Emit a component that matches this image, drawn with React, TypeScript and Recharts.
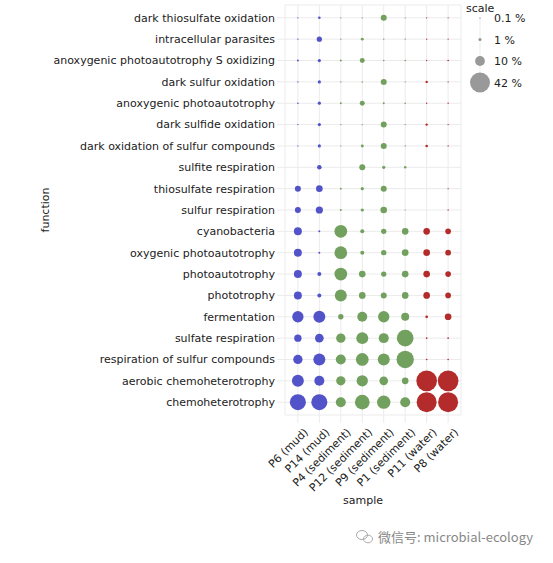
import React from "react"
import {
  CartesianGrid,
  Scatter,
  ScatterChart,
  XAxis,
  YAxis,
  ZAxis
} from "recharts"

// function names, top row first
const functions = [
  "dark thiosulfate oxidation",
  "intracellular parasites",
  "anoxygenic photoautotrophy S oxidizing",
  "dark sulfur oxidation",
  "anoxygenic photoautotrophy",
  "dark sulfide oxidation",
  "dark oxidation of sulfur compounds",
  "sulfite respiration",
  "thiosulfate respiration",
  "sulfur respiration",
  "cyanobacteria",
  "oxygenic photoautotrophy",
  "photoautotrophy",
  "phototrophy",
  "fermentation",
  "sulfate respiration",
  "respiration of sulfur compounds",
  "aerobic chemoheterotrophy",
  "chemoheterotrophy"
]

const samples = [
  "P6 (mud)",
  "P14 (mud)",
  "P4 (sediment)",
  "P12 (sediment)",
  "P9 (sediment)",
  "P1 (sediment)",
  "P11 (water)",
  "P8 (water)"
]

const sampleType = ["mud", "mud", "sediment", "sediment", "sediment", "sediment", "water", "water"]

// relative abundance (%) per sample, same order as functions
const p6 = [0.1, 0.1, 0.3, 0.1, 0.2, 0.1, 0.05, 0, 3.7, 3.7, 6.6, 6.6, 6.6, 6.6, 13.4, 5.6, 9, 15, 27]
const p14 = [0.6, 2.8, 1.0, 1.0, 1.0, 1.0, 1.0, 2.1, 4.5, 5.4, 0.33, 0.33, 1.6, 1.6, 15, 7.8, 15, 10.4, 27]
const p4 = [0.1, 0.1, 0.3, 0.1, 0.3, 0.1, 0.05, 0, 0.3, 0.3, 16.9, 16.9, 17, 15, 2.9, 9, 10.4, 9, 10.4]
const p12 = [0.1, 0.8, 2.5, 0.15, 2.5, 0.1, 0.8, 3.7, 1.0, 1.0, 1.6, 1.6, 4.6, 4.6, 10.4, 15, 17, 13.4, 22.6]
const p9 = [3.7, 0.1, 0.2, 3.7, 0.3, 3.7, 3.7, 1.0, 3.7, 4.5, 2.9, 2.9, 2.9, 3.7, 13.4, 10.4, 15, 7.8, 18.7]
const p1 = [0.05, 0.1, 0.2, 0.03, 0.2, 0.1, 0.1, 0.5, 0, 0.05, 4.6, 4.6, 4.6, 4.6, 6.6, 29, 31.5, 4.6, 10.4]
const p11 = [0.1, 0.1, 0.1, 0.5, 0.1, 0.5, 0.6, 0, 0, 0, 4.6, 4.6, 4.6, 4.6, 0.7, 0.2, 0.2, 45, 42]
const p8 = [0.05, 0.05, 0.2, 0.05, 0.1, 0.1, 0.1, 0, 0.05, 0.1, 3.3, 3.3, 3.3, 3.3, 4.6, 0.2, 0.2, 45, 42]

const sampleValues = [p6, p14, p4, p12, p9, p1, p11, p8]

const legendValues = [0.1, 1, 10, 42]
const legendLabels = ["0.1 %", "1 %", "10 %", "42 %"]

const colors: Record<string, string> = {
  mud: "#5353c9",
  sediment: "#72a05e",
  water: "#b42b2b"
}

// z -> circle area, same mapping used by the ZAxis below
const zDomain = [0, 45]
const zRange = [0.65, 336]
function areaFor(v: number) {
  return zRange[0] + ((v - zDomain[0]) / (zDomain[1] - zDomain[0])) * (zRange[1] - zRange[0])
}

function pointsFor(type: string) {
  const pts: { x: number; y: number; z: number }[] = []
  sampleValues.forEach((vals, si) => {
    if (sampleType[si] !== type) return
    vals.forEach((v, fi) => {
      if (v > 0) pts.push({ x: si, y: functions.length - 1 - fi, z: v })
    })
  })
  return pts
}

function XTick({ x, y, payload }: any) {
  return (
    <g transform={`translate(${x + 5},${y + 2})`}>
      <text transform="rotate(-45)" textAnchor="end" dy="0.75em" fontSize={11} fill="#222">
        {samples[payload.value]}
      </text>
    </g>
  )
}

export default function App() {
  const yTicks = functions.map((_, i) => i)
  const xTicks = samples.map((_, i) => i)
  return (
    <div style={{ position: "absolute", left: 0, top: 0, width: 553, height: 563, fontFamily: "DejaVu Sans", background: "#fff" }}>
      <ScatterChart width={553} height={563} margin={{ top: 5, right: 92, bottom: 0, left: 0 }}>
        <CartesianGrid stroke="#ebebeb" />
        <XAxis
          type="number"
          dataKey="x"
          domain={[-0.6, 7.6]}
          ticks={xTicks}
          interval={0}
          height={148}
          axisLine={false}
          tickSize={8}
          tickLine={{ stroke: "#ebebeb" }}
          tick={<XTick />}
        />
        <YAxis
          type="number"
          dataKey="y"
          domain={[-0.6, functions.length - 0.4]}
          ticks={yTicks}
          interval={0}
          width={285}
          axisLine={false}
          tickSize={8}
          tickLine={{ stroke: "#ebebeb" }}
          tick={{ fill: "#222", fontSize: 11 }}
          tickFormatter={(v: number) => functions[functions.length - 1 - v]}
        />
        <ZAxis type="number" dataKey="z" domain={zDomain} range={zRange} />
        {["mud", "sediment", "water"].map(t => (
          <Scatter key={t} data={pointsFor(t)} fill={colors[t]} isAnimationActive={false} />
        ))}
      </ScatterChart>
      <svg width={553} height={563} style={{ position: "absolute", left: 0, top: 0, pointerEvents: "none" }}>
        <text x={46} y={210} transform="rotate(-90, 46, 210)" textAnchor="middle" dominantBaseline="middle" fontSize={11} fill="#222">
          function
        </text>
        <text x={363} y={504} textAnchor="middle" fontSize={11} fill="#222">
          sample
        </text>
        <text x={466} y={12} fontSize={11} fill="#222">scale</text>
        <line x1={480} y1={18} x2={480} y2={83} stroke="#ebebeb" />
        {legendValues.map((v, i) => (
          <g key={v}>
            <circle cx={480} cy={18 + i * 21.5} r={Math.sqrt(areaFor(v) / Math.PI)} fill="#999" />
            <text x={494} y={22 + i * 21.5} fontSize={11} fill="#222">{legendLabels[i]}</text>
          </g>
        ))}
        <g stroke="#aaa" fill="none" strokeWidth={1}>
          <ellipse cx={362} cy={535} rx={5.5} ry={4.5} />
          <ellipse cx={368} cy={539} rx={4.5} ry={3.8} />
        </g>
        <text x={378} y={542} fontSize={13} fill="#888" style={{ fontFamily: "Noto Sans CJK SC, DejaVu Sans" }}>
          微信号: microbial-ecology
        </text>
      </svg>
    </div>
  )
}
